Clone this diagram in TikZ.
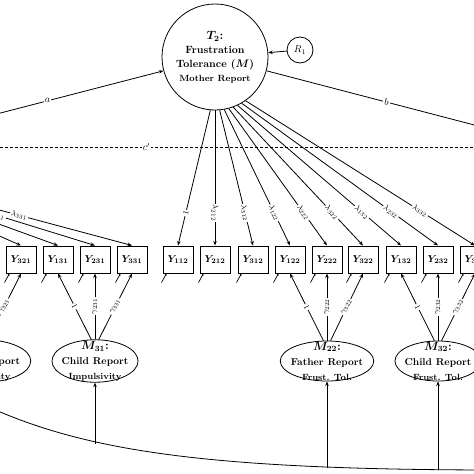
\documentclass[tikz,border=0pt]{standalone}
\usepackage{amsmath}
\usepackage{tikz}
\usetikzlibrary{arrows.meta, shapes.geometric, positioning}

\tikzset{
  obs/.style={draw, line width=1pt, minimum width=30pt, minimum height=27pt, inner sep=1pt, font=\bfseries\boldmath},
  lat/.style={draw, ellipse, line width=.8pt, inner xsep=-3pt, inner ysep=-5pt, align=center, font=\fontsize{10}{15}\selectfont\bfseries\boldmath},
  arr/.style={-{Stealth[length=4.5pt,width=3.5pt]}, line width=.8pt},
  coef/.style={fill=white, inner sep=1pt, font=\footnotesize, sloped},
  err/.style={-{Stealth[length=2.5pt,width=2pt]}, line width=.7pt}
}

\begin{document}
\begin{tikzpicture}[x=1pt, y=-1pt]
        \useasboundingbox (0,0) rectangle (474,474);
        \clip (0,0) rectangle (474,474);
        % latent variables
        \node[draw, circle, line width=.8pt, minimum size=106pt, inner sep=0pt, align=center, font=\fontsize{10.5}{14}\selectfont\bfseries\boldmath] (T2) at (215,57) {{\large $T_2$:}\\ Frustration\\ Tolerance ($M$)\\ {\small Mother Report}};
        \node[draw, circle, line width=.8pt, minimum size=26pt, inner sep=0pt] (R1) at (300,50) {$R_1$};
        \node[lat] (M21) at (-16,361) {{\large $M_{21}$:}\\ Father Report\\ {\small Impulsivity}};
        \node[lat] (M31) at (95,361) {{\large $M_{31}$:}\\ Child Report\\ {\small Impulsivity}};
        \node[lat] (M22) at (327,361) {{\large $M_{22}$:}\\ Father Report\\ {\small Frust. Tol.}};
        \node[lat] (M32) at (438,361) {{\large $M_{32}$:}\\ Child Report\\ {\small Frust. Tol.}};
        \coordinate (T1) at (-150,170);
        \coordinate (X) at (-100,139);
        \coordinate (T3) at (574,151);
        \coordinate (cl) at (-20,147);
        \coordinate (cr) at (500,147);
        % observed indicators
        \foreach \n/\x in {321/21, 131/58, 231/95, 331/132, 112/178, 212/215, 312/253,
                           122/290, 222/327, 322/363, 132/401, 232/438, 332/475}{
            \node[obs] (Y\n) at (\x,259.5) {$Y_{\n}$};
            \draw[err] ([shift={(-1pt,-9pt)}]Y\n.south west) -- ([xshift=4pt]Y\n.south west);
        }
        % structural paths
        \draw[arr] (X) -- node[fill=white, inner sep=1pt, pos=.56] {$a$} (T2.195);
        \draw[arr] (T2.345) -- node[fill=white, inner sep=1pt, pos=.39] {$b$} (T3);
        \draw[arr, dash pattern=on 3pt off 2pt] (cl) -- node[fill=white, inner sep=1pt, pos=.32] {$c'$} (cr);
        \draw[arr] (R1) -- (T2);
        % loadings
        \foreach \n/\ang/\lab in {112/265/1, 212/270/\lambda_{212}, 312/275/\lambda_{312},
                                 122/280/\lambda_{122}, 222/285/\lambda_{222}, 322/290/\lambda_{322},
                                 132/295/\lambda_{132}, 232/300/\lambda_{232}, 332/305/\lambda_{332}}
            \draw[arr] (T2.\ang) -- node[coef, pos=.76] {$\lab$} (Y\n.north);
        \foreach \n in {321,131,231,331}
            \draw[arr] (T1) -- node[coef, pos=.6] {$\lambda_{\n}$} (Y\n.north);
        \draw[arr] (M21.80) -- node[coef] {$\gamma_{321}$} (Y321.south);
        \foreach \m/\a/\b/\c in {31/131/231/331, 22/122/222/322, 32/132/232/332}{
            \draw[arr] (M\m.100) -- node[coef] {$1$} (Y\a.south);
            \draw[arr] (M\m.north) -- node[coef] {$\gamma_{\b}$} (Y\b.south);
            \draw[arr] (M\m.80) -- node[coef] {$\gamma_{\c}$} (Y\c.south);
        }
        % moderator curve
        \coordinate (f31) at (95,443.5);
        \coordinate (f22) at (327,468);
        \coordinate (f32) at (438,469.5);
        \draw[line width=.8pt] (-20,403) .. controls (80,450) and (200,470) .. (500,470);
        \foreach \m in {31,22,32}
            \draw[arr] (f\m) -- (M\m.south);
\end{tikzpicture}
\end{document}
